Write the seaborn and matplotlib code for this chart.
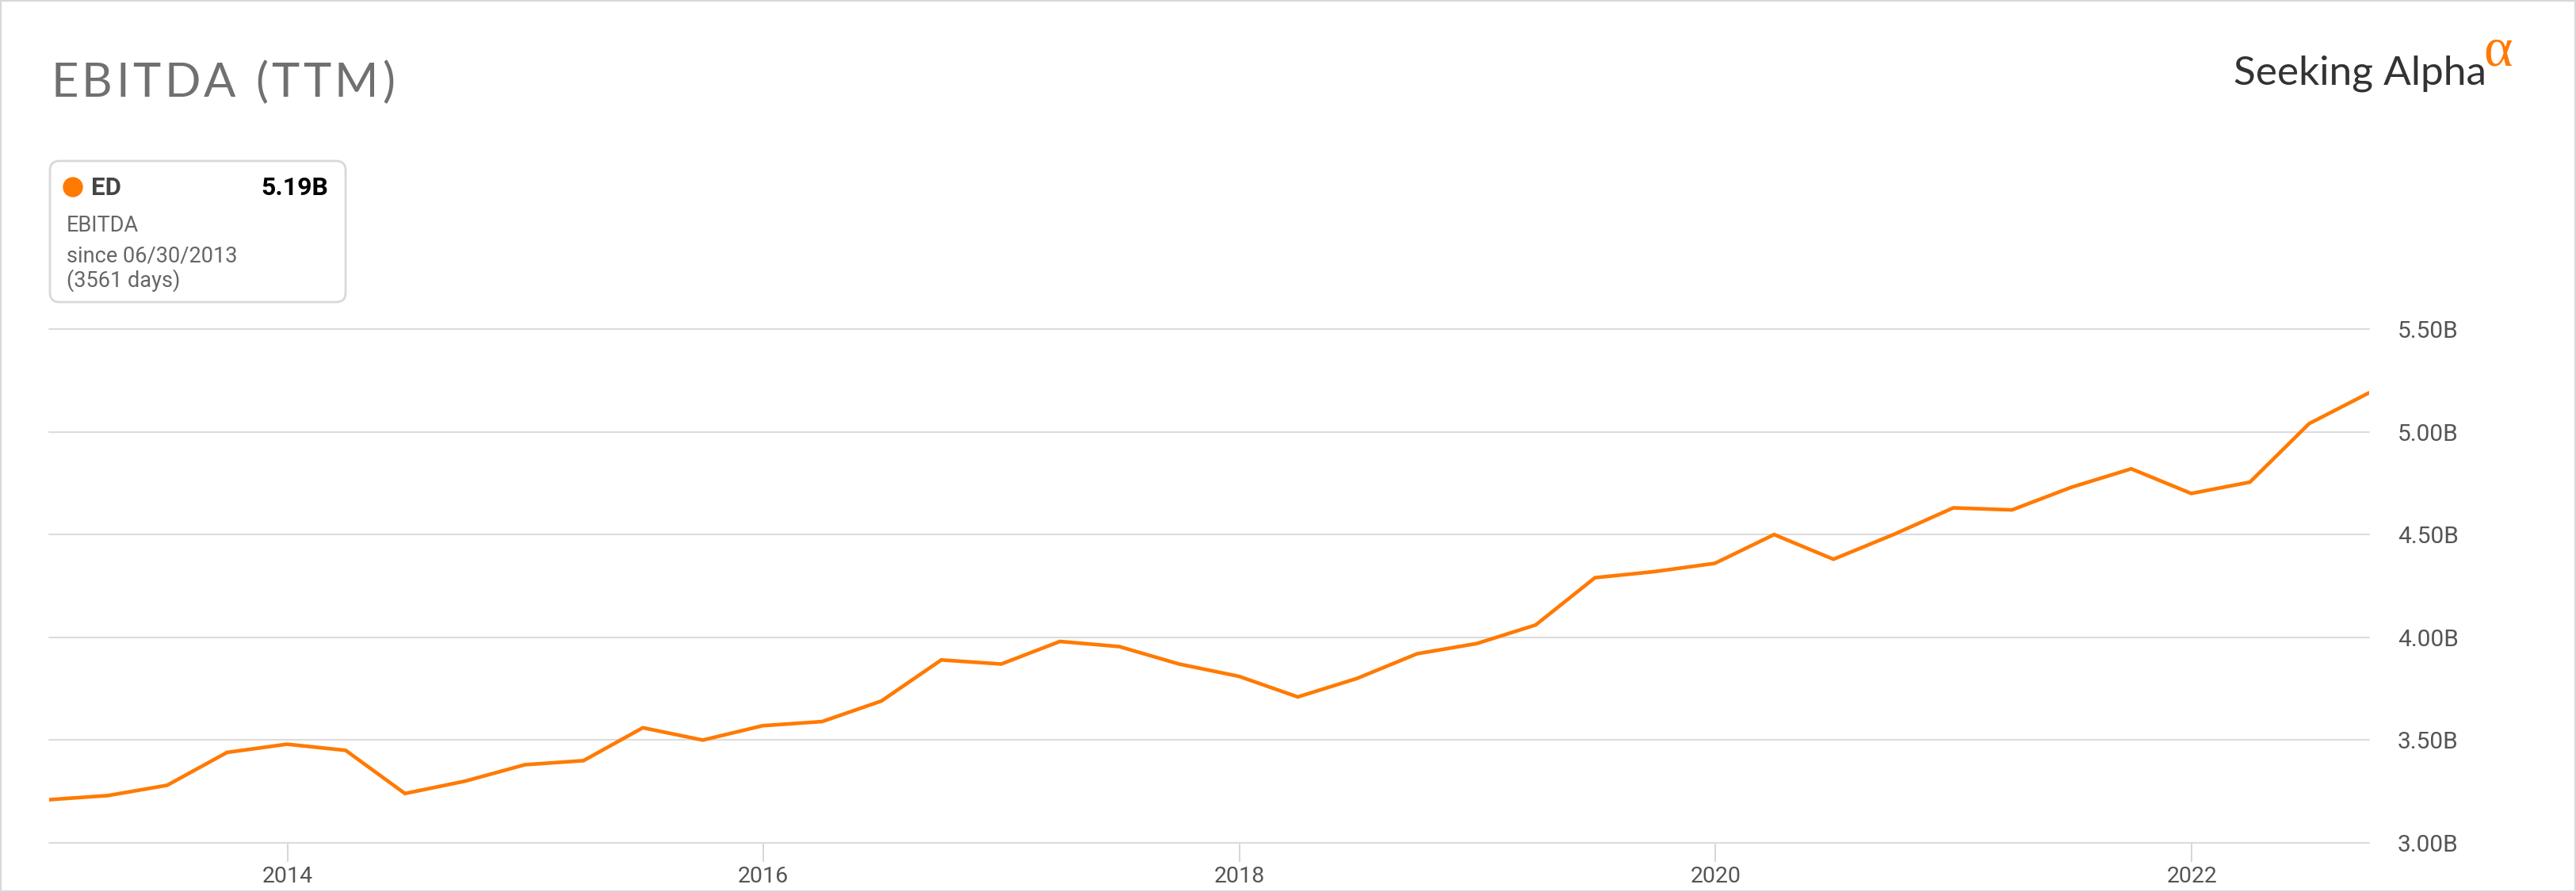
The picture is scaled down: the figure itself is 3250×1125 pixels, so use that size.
import matplotlib
matplotlib.use("Agg")
import matplotlib.pyplot as plt
import matplotlib.dates as mdates
from matplotlib.patches import FancyBboxPatch, Rectangle, Circle
from matplotlib.transforms import IdentityTransform
from matplotlib.ticker import FuncFormatter
import pandas as pd
import seaborn as sns

# quarterly EBITDA (TTM), billions USD
QUARTER_START = "2012-12-31"
EBITDA_B = [3.21, 3.23, 3.28, 3.44, 3.48, 3.45, 3.24, 3.30, 3.38, 3.40,
            3.56, 3.50, 3.57, 3.59, 3.69, 3.89, 3.87, 3.98, 3.955, 3.87,
            3.81, 3.71, 3.80, 3.92, 3.97, 4.06, 4.29, 4.32, 4.36, 4.50,
            4.38, 4.50, 4.63, 4.62, 4.73, 4.82, 4.70, 4.755, 5.04, 5.19]
Y_TICKS = [3.0, 3.5, 4.0, 4.5, 5.0, 5.5]
X_TICK_YEARS = [2014, 2016, 2018, 2020, 2022]

TITLE = "EBITDA (TTM)"
TICKER = "ED"
LAST_VALUE = "5.19B"
LEGEND_LINES = ["EBITDA", "since 06/30/2013", "(3561 days)"]

ORANGE = "#ff7a00"
GRID = "#dcdcdc"
TEXT = "#555555"

W, H, DPI = 3250, 1125, 100

df = pd.DataFrame({
    "date": pd.date_range(QUARTER_START, periods=len(EBITDA_B), freq="QE"),
    "ebitda": EBITDA_B,
})

sns.set_theme(style="white")
plt.rcParams["font.family"] = ["Roboto", "DejaVu Sans"]

fig = plt.figure(figsize=(W / DPI, H / DPI), dpi=DPI)
fig.patch.set_facecolor("white")

# plot area in pixels: x 62..2989, y 415..1063 (from top)
ax = fig.add_axes([62 / W, 1 - 1063 / H, (2989 - 62) / W, (1063 - 415) / H])
sns.lineplot(data=df, x="date", y="ebitda", ax=ax, color=ORANGE,
             linewidth=3.3, solid_joinstyle="miter")

ax.set_xlim(df["date"].iloc[0], df["date"].iloc[-1])
ax.set_ylim(Y_TICKS[0], Y_TICKS[-1])
ax.set_yticks(Y_TICKS)
ax.yaxis.set_major_formatter(FuncFormatter(lambda v, _: f"{v:.2f}B"))
ax.yaxis.tick_right()
ax.tick_params(axis="y", length=0, pad=26, labelsize=21.5, labelcolor=TEXT)

ax.set_xticks([pd.Timestamp(f"{y}-01-01") for y in X_TICK_YEARS])
ax.xaxis.set_major_formatter(mdates.DateFormatter("%Y"))
ax.tick_params(axis="x", length=17, width=1.2, color="#d0d0d0", pad=4,
               labelsize=20.5, labelcolor=TEXT, bottom=True)

ax.grid(axis="y", color=GRID, linewidth=1.5)
ax.grid(axis="x", visible=False)
for s in ax.spines.values():
    s.set_visible(False)
ax.set_xlabel("")
ax.set_ylabel("")
for gl in ax.get_ygridlines():
    gl.set_clip_on(False)

# outer frame
fig.add_artist(Rectangle((0, 0), 1, 1, transform=fig.transFigure, fill=False,
                         edgecolor="#d8d8d8", linewidth=3))

# title with wide letter spacing
renderer = fig.canvas.get_renderer()
x = 64
for ch in TITLE:
    t = fig.text(x / W, 1 - 122 / H, ch, fontsize=43, color="#707070",
                 family=["Lato", "DejaVu Sans"], va="baseline", ha="left")
    x += t.get_window_extent(renderer).width + 4.5

# legend card
ident = IdentityTransform()
fig.add_artist(FancyBboxPatch((63, H - 381), 373, 178,
                              boxstyle="round,pad=0,rounding_size=12",
                              transform=ident, facecolor="white",
                              edgecolor="#d9d9d9", linewidth=2))
fig.add_artist(Circle((92, H - 236), 12, transform=ident, color=ORANGE))
fig.text(115 / W, 1 - 237 / H, TICKER, fontsize=22.5, fontweight="bold",
         color="#444444", va="center", ha="left")
fig.text(414 / W, 1 - 237 / H, LAST_VALUE, fontsize=23, fontweight="bold",
         color="black", va="center", ha="right")
for line, yy in zip(LEGEND_LINES, [284, 323, 354]):
    fig.text(84 / W, 1 - yy / H, line, fontsize=19.5, color="#666666",
             va="center", ha="left")

# Seeking Alpha mark
fig.text(2818 / W, 1 - 107 / H, "Seeking Alpha", fontsize=37,
         color="#333333", family=["Lato", "DejaVu Sans"],
         va="baseline", ha="left")
fig.text(3133 / W, 1 - 66 / H, "α", fontsize=50, color=ORANGE,
         family=["Liberation Serif", "DejaVu Serif"], va="center", ha="left")

fig.savefig("out.png", dpi=DPI, facecolor="white")
plt.close(fig)
